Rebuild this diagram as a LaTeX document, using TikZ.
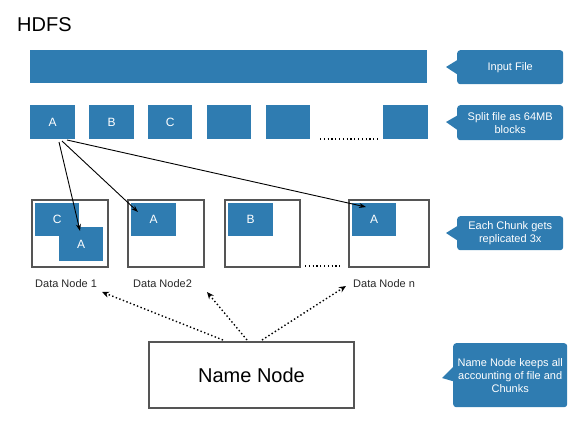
\documentclass[tikz,border=0pt]{standalone}
\usepackage{fontspec}
\setmainfont{Liberation Sans}
\usetikzlibrary{arrows.meta}
\definecolor{kblue}{RGB}{47,124,177}
\definecolor{kgray}{RGB}{85,85,85}
\definecolor{ktext}{RGB}{40,40,40}
\tikzset{
  blk/.style={fill=kblue, draw=none, inner sep=0pt, anchor=north west, text=white, font=\fontsize{12}{14}\selectfont},
  dnbox/.style={draw=kgray, line width=2pt, fill=white, inner sep=0pt, anchor=north west},
  callout/.style={fill=kblue, rounded corners=3pt, inner sep=0pt, anchor=north west, text=white, align=center, font=\fontsize{11}{13}\selectfont},
  lbl/.style={text=ktext, font=\fontsize{11}{13}\selectfont, inner sep=0pt},
  rep/.style={-{Stealth[length=7pt,width=5pt]}, line width=0.9pt, black},
  meta/.style={-{Stealth[length=7pt,width=6pt]}, line width=1.4pt, black, dash pattern=on 1.4pt off 2.4pt},
  gap/.style={line width=1.2pt, dash pattern=on 1.2pt off 2.6pt, black}
}
\begin{document}
\begin{tikzpicture}[x=1pt,y=-1pt]
\useasboundingbox (0,0) rectangle (575,431);
% title
\node[anchor=base west, inner sep=0pt, font=\fontsize{20}{24}\selectfont, text=black] (title) at (17,31) {HDFS};
% input file
\node[blk, minimum width=397pt, minimum height=33pt] (input) at (30,50) {};
% split blocks
\node[blk, minimum width=45pt, minimum height=34pt] (sA) at (30,105) {A};
\node[blk, minimum width=45pt, minimum height=34pt] (sB) at (89,105) {B};
\node[blk, minimum width=44pt, minimum height=34pt] (sC) at (148,105) {C};
\node[blk, minimum width=44pt, minimum height=34pt] (sD) at (207,105) {};
\node[blk, minimum width=44pt, minimum height=34pt] (sE) at (266,105) {};
\node[blk, minimum width=45pt, minimum height=34pt] (sF) at (383,105) {};
\coordinate (gs1) at (320,139);
\coordinate (ge1) at (378,139);
\draw[gap] (gs1) -- (ge1);
% data nodes
\node[dnbox, minimum width=76pt, minimum height=67pt] (dn1) at (31,199) {};
\node[dnbox, minimum width=76pt, minimum height=67pt] (dn2) at (127,199) {};
\node[dnbox, minimum width=75pt, minimum height=67pt] (dn3) at (224,199) {};
\node[dnbox, minimum width=80pt, minimum height=67pt] (dnn) at (348,199) {};
\node[blk, minimum width=44pt, minimum height=33pt] (c1) at (35,203) {C};
\node[blk, minimum width=44pt, minimum height=34pt] (a1) at (59,227) {A};
\node[blk, minimum width=45pt, minimum height=33pt] (a2) at (131,203) {A};
\node[blk, minimum width=45pt, minimum height=33pt] (b3) at (228,203) {B};
\node[blk, minimum width=44pt, minimum height=33pt] (an) at (352,203) {A};
\coordinate (gs2) at (305,266);
\coordinate (ge2) at (342,266);
\draw[gap] (gs2) -- (ge2);
% labels
\node[lbl, anchor=west] (l1) at (35,284) {Data Node 1};
\node[lbl, anchor=west] (l2) at (133,284) {Data Node2};
\node[lbl, anchor=west] (ln) at (353,284) {Data Node n};
% name node
\node[dnbox, minimum width=205pt, minimum height=66pt, font=\fontsize{20}{24}\selectfont, text=black] (nn) at (148,341) {Name Node};
% replication arrows
\coordinate (o1) at (59,142);
\coordinate (o2) at (62,141);
\coordinate (o3) at (67,140);
\coordinate (t1) at (80,231);
\coordinate (t2) at (138,212);
\coordinate (t3) at (366,207);
\draw[rep] (o1) -- (t1);
\draw[rep] (o2) -- (t2);
\draw[rep] (o3) -- (t3);
% name node arrows
\coordinate (m1) at (223,340);
\coordinate (m2) at (247,340);
\coordinate (m3) at (262,340);
\coordinate (e1) at (102,292);
\coordinate (e2) at (207,292);
\coordinate (e3) at (346,286);
\draw[meta] (m1) -- (e1);
\draw[meta] (m2) -- (e2);
\draw[meta] (m3) -- (e3);
% callouts
\node[callout, minimum width=106pt, minimum height=34pt] (k1) at (457,50) {Input File};
\coordinate (p1) at (446,67);
\fill[kblue] ([yshift=7pt]k1.west) -- (p1) -- ([yshift=-7pt]k1.west) -- cycle;
\node[callout, minimum width=106pt, minimum height=35pt] (k2) at (457,105) {Split file as 64MB\\blocks};
\coordinate (p2) at (446,122);
\fill[kblue] ([yshift=7pt]k2.west) -- (p2) -- ([yshift=-7pt]k2.west) -- cycle;
\node[callout, minimum width=106pt, minimum height=34pt] (k3) at (457,216) {Each Chunk gets\\replicated 3x};
\coordinate (p3) at (446,233);
\fill[kblue] ([yshift=7pt]k3.west) -- (p3) -- ([yshift=-7pt]k3.west) -- cycle;
\node[callout, minimum width=114pt, minimum height=64pt] (k4) at (453,343) {Name Node keeps all\\accounting of file and\\Chunks};
\coordinate (p4) at (442,378);
\fill[kblue] ([yshift=8pt]k4.west) -- (p4) -- ([yshift=-6pt]k4.west) -- cycle;
\end{tikzpicture}
\end{document}
